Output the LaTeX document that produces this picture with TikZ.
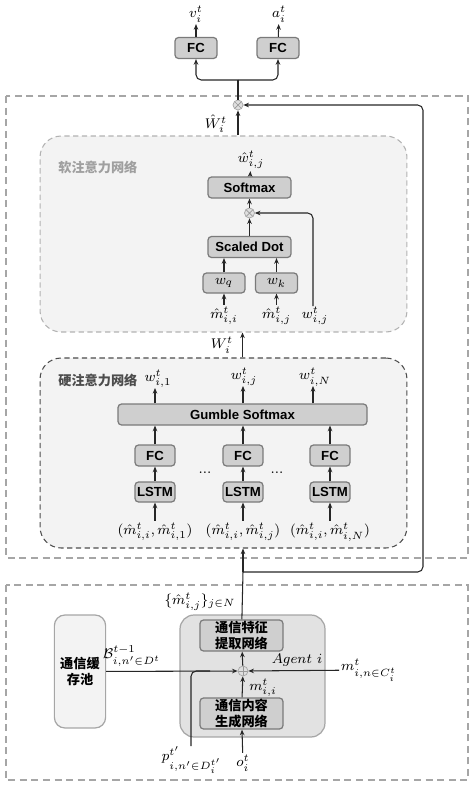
\documentclass[tikz,border=0pt]{standalone}
\usepackage{amsmath, bm}
\usepackage{fontspec}
\setsansfont{Liberation Sans}
\newfontfamily\cjk{Noto Sans CJK SC}
\usetikzlibrary{arrows.meta, positioning}

\definecolor{boxfill}{HTML}{CFCFCF}
\definecolor{boxline}{HTML}{7A7A7A}
\definecolor{areafill}{HTML}{F3F3F3}
\definecolor{agentfill}{HTML}{E2E2E2}

\tikzset{
    blk/.style={draw=boxline, fill=boxfill, rounded corners=2pt, line width=0.7pt,
        inner sep=0pt, minimum height=0.42cm,
        font=\sffamily\bfseries\fontsize{7.5}{8}\selectfont},
    cjkblk/.style={blk, align=center, font=\cjk\bfseries\fontsize{7.5}{9}\selectfont},
    lbl/.style={inner sep=1pt, font=\fontsize{8.5}{9}\selectfont},
    arr/.style={-{Stealth[length=3.2pt,width=2.6pt]}, line width=0.6pt, draw=black!85},
    line/.style={line width=0.6pt, draw=black!85},
    frame/.style={draw=gray!70, line width=1.1pt, dash pattern=on 4pt off 2.6pt},
    softarea/.style={draw=gray!60, fill=areafill, line width=0.6pt, dash pattern=on 3pt off 2pt,
        rounded corners=12pt, minimum width=7.34cm, minimum height=3.92cm},
    hardarea/.style={draw=black!70, fill=areafill, line width=0.6pt, dash pattern=on 3pt off 2pt,
        rounded corners=12pt, minimum width=7.34cm, minimum height=3.8cm},
    areaname/.style={anchor=west, inner sep=0pt, font=\cjk\bfseries\fontsize{7.5}{8}\selectfont},
    mult/.style={circle, draw=gray!70, fill=gray!25, minimum size=0.2cm, inner sep=0pt,
        path picture={\draw[gray!80, line width=0.4pt]
            (path picture bounding box.north west) -- (path picture bounding box.south east)
            (path picture bounding box.south west) -- (path picture bounding box.north east);}},
    add/.style={circle, draw=gray!70, fill=gray!25, minimum size=0.2cm, inner sep=0pt,
        path picture={\draw[gray!80, line width=0.4pt]
            (path picture bounding box.north) -- (path picture bounding box.south)
            (path picture bounding box.west) -- (path picture bounding box.east);}}
}

\begin{document}
\begin{tikzpicture}[x=0.02cm, y=-0.02cm]
    \useasboundingbox (0,0) rectangle (474,785);

    % dashed frames
    \draw[frame] (6,96) rectangle (468,558);
    \draw[frame] (6,585) rectangle (468,780);

    % output heads
    \node[blk, minimum width=0.84cm] (fcv) at (196,48) {FC};
    \node[blk, minimum width=0.84cm] (fca) at (278,48) {FC};
    \node[lbl] (v) at (196,14) {$v_i^t$};
    \node[lbl] (a) at (279,14) {$a_i^t$};
    \node[mult] (top) at (238,105) {};
    \coordinate (split) at (238,80);
    \draw[arr] (fcv) -- (v);
    \draw[arr] (fca) -- (a);
    \draw[line] (top) -- (split);
    \draw[arr, rounded corners=3pt] (split) -| (fcv);
    \draw[arr, rounded corners=3pt] (split) -| (fca);

    % soft attention
    \node[softarea] (soft) at (223.5,234) {};
    \node[areaname, text=gray!75] (softname) at (58,167) {软注意力网络};
    \node[lbl] (What) at (216,124) {$\hat{W}_i^t$};
    \draw[arr] (soft.north -| top) -- (top);

    \node[lbl] (what) at (251,160) {$\hat{w}_{i,j}^t$};
    \node[blk, minimum width=1.66cm] (smax) at (249.5,187.5) {Softmax};
    \node[mult] (dotx) at (249.5,213) {};
    \node[blk, minimum width=1.66cm] (sdot) at (249.5,247) {Scaled Dot};
    \node[blk, minimum width=0.84cm, minimum height=0.4cm, font=\fontsize{8.5}{9}\selectfont] (wq) at (224,283) {$w_q$};
    \node[blk, minimum width=0.84cm, minimum height=0.4cm, font=\fontsize{8.5}{9}\selectfont] (wk) at (276.5,283) {$w_k$};
    \node[lbl] (mii) at (224,316) {$\hat{m}_{i,i}^t$};
    \node[lbl] (mij) at (276.5,316) {$\hat{m}_{i,j}^t$};
    \node[lbl] (wij) at (315,316) {$w_{i,j}^t$};
    \draw[arr] (mii) -- (wq);
    \draw[arr] (mij) -- (wk);
    \draw[arr] (wq) -- (wq |- sdot.south);
    \draw[arr] (wk) -- (wk |- sdot.south);
    \draw[arr] (sdot) -- (dotx);
    \draw[arr] (dotx) -- (smax);
    \draw[arr] (smax) -- (what);
    \draw[arr, rounded corners=3pt] (313,306) |- (dotx);

    % hard attention
    \node[hardarea] (hard) at (223.5,453) {};
    \node[areaname, text=black!70] (hardname) at (58,380) {硬注意力网络};
    \node[lbl] (W) at (222,345) {$W_i^t$};
    \node[blk, minimum width=4.98cm] (gs) at (242.5,414.5) {Gumble Softmax};
    \draw[arr] (hard.north -| gs) -- (soft.south -| gs);

    \node[lbl] (w1) at (158,379) {$w_{i,1}^t$};
    \node[lbl] (wj) at (244,377) {$w_{i,j}^t$};
    \node[lbl] (wN) at (315,377) {$w_{i,N}^t$};
    \draw[arr] (gs.north -| 155,0) -- (155,388);
    \draw[arr] (gs.north -| 243,0) -- (243,386);
    \draw[arr] (gs.north -| 313,0) -- (313,386);

    \node[blk, minimum width=0.8cm] (fc1) at (155,455.5) {FC};
    \node[blk, minimum width=0.8cm] (fcj) at (243,455.5) {FC};
    \node[blk, minimum width=0.8cm] (fcN) at (330,455.5) {FC};
    \node[blk, minimum width=0.8cm, minimum height=0.4cm] (ls1) at (155,492) {LSTM};
    \node[blk, minimum width=0.8cm, minimum height=0.4cm] (lsj) at (243,492) {LSTM};
    \node[blk, minimum width=0.8cm, minimum height=0.4cm] (lsN) at (330,492) {LSTM};
    \node[lbl] (dots1) at (205,473) {...};
    \node[lbl] (dots2) at (277,473) {...};
    \node[lbl] (in1) at (155,532) {$(\hat{m}_{i,i}^t,\hat{m}_{i,1}^t)$};
    \node[lbl] (inj) at (243,532) {$(\hat{m}_{i,i}^t,\hat{m}_{i,j}^t)$};
    \node[lbl] (inN) at (330,532) {$(\hat{m}_{i,i}^t,\hat{m}_{i,N}^t)$};
    \foreach \k in {1,j,N}{
        \draw[arr] (in\k) -- (ls\k);
        \draw[arr] (ls\k) -- (fc\k);
        \draw[arr] (fc\k) -- (fc\k |- gs.south);
    }

    % agent
    \node[draw=gray!70, fill=areafill, rounded corners=6pt, line width=0.7pt,
        minimum width=0.92cm, minimum height=2.26cm, align=center,
        font=\cjk\bfseries\fontsize{7.5}{9}\selectfont] (cache) at (80,671.5) {通信缓\\存池};
    \node[draw=gray!70, fill=agentfill, rounded corners=8pt, line width=0.7pt,
        minimum width=2.9cm, minimum height=2.44cm] (agent) at (252.5,676) {};
    \node[cjkblk, minimum width=1.66cm, minimum height=0.62cm] (feat) at (241.5,635.5) {通信特征\\提取网络};
    \node[cjkblk, minimum width=1.66cm, minimum height=0.62cm] (gen) at (241.5,713.5) {通信内容\\生成网络};
    \node[add] (plus) at (243,671) {};
    \node[lbl] (agname) at (297,660) {$Agent\ i$};
    \node[lbl] (mi) at (263,688) {$m_{i,i}^t$};
    \node[lbl] (mset) at (200,602) {$\{\hat{m}_{i,j}^t\}_{j\in N}$};
    \node[lbl] (B) at (132,656) {$\mathcal{B}^{t-1}_{i,n'\in D^t}$};
    \node[lbl] (p) at (192,760) {$p^{t'}_{i,n'\in D_i^{t'}}$};
    \node[lbl] (o) at (243,763) {$o_i^t$};
    \node[lbl] (mC) at (369,670) {$m^t_{i,n\in C_i^t}$};
    \coordinate (pj) at (210,671);
    \coordinate (up) at (243,572);
    \coordinate (turn) at (423,105);

    \draw[arr] (cache) -- (plus);
    \draw[line, rounded corners=3pt] (191,746) |- (pj);
    \draw[arr] (mC) -- (plus);
    \draw[arr] (o) -- (gen);
    \draw[arr] (gen) -- (plus);
    \draw[arr] (plus) -- (feat);
    \draw[line] (feat) -- (up);
    \draw[arr] (up) -- (hard.south -| up);
    \draw[arr, rounded corners=3pt] (up) -| (turn) -- (top);
\end{tikzpicture}
\end{document}
